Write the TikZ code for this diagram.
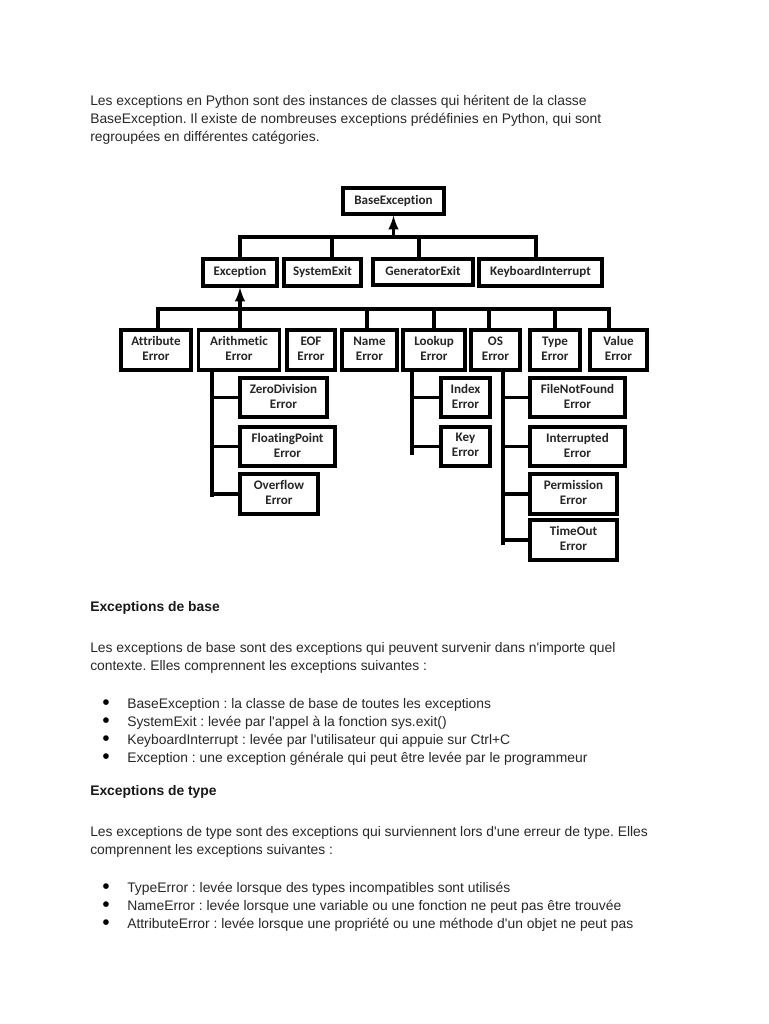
\documentclass[tikz,border=0pt]{standalone}
\usepackage{fontspec}
\setmainfont{Liberation Sans}
\newfontfamily\boxfont{Carlito}[Ligatures=NoCommon]
\newfontfamily\dotfont{DejaVu Sans}
\usepackage{tikz}
\usetikzlibrary{arrows,positioning,calc}
\definecolor{bodyGray}{RGB}{40,40,40}
\frenchspacing

\begin{document}
\begin{tikzpicture}[x=0.75pt,y=-0.75pt,>=latex,
    box/.style 2 args={draw, line width=2.4pt, inner sep=0pt, align=center,
        execute at begin node={\rule{0pt}{7.5pt}},
        execute at end node={\rule[-2.3pt]{0pt}{2.3pt}},
        minimum width=#1*0.75pt, minimum height=#2*0.75pt,
        font=\boxfont\bfseries\fontsize{9.8}{11.2}\selectfont, text=black!85},
    wire/.style={line width=2.5pt},
    twig/.style={line width=2.3pt},
    txt/.style={anchor=base west, inner sep=0pt, text=bodyGray,
        font=\fontsize{10.4}{12}\selectfont},
    head/.style={txt, text=black!90, font=\fontsize{10.4}{12}\selectfont\bfseries},
    dot/.style={inner sep=0pt, text=black, font=\dotfont\fontsize{5.5}{6}\selectfont}]
\fill[white] (0,0) rectangle (768,1024);
\useasboundingbox (0,0) rectangle (768,1024);

% intro
\node[txt] (p1a) at (90,105) {Les exceptions en Python sont des instances de classes qui héritent de la classe};
\node[txt] (p1b) at (90,123) {BaseException. Il existe de nombreuses exceptions prédéfinies en Python, qui sont};
\node[txt] (p1c) at (90,141) {regroupées en différentes catégories.};

% hierarchy
\node[box={101}{26}] (base) at (393.5,201) {BaseException};

\node[box={74}{27}] (exc) at (240,272.5) {Exception};
\node[box={77}{27}] (sysexit) at (322.5,272.5) {SystemExit};
\node[box={100}{26}] (genexit) at (423,272) {GeneratorExit};
\node[box={123}{27}] (kbint) at (540.5,272.5) {KeyboardInterrupt};

\node[box={70}{40}] (attr) at (156,350) {Attribute\\Error};
\node[box={81}{40}] (arith) at (239,350) {Arithmetic\\Error};
\node[box={48}{40}] (eof) at (311,350) {EOF\\Error};
\node[box={55}{40}] (name) at (369.5,350) {Name\\Error};
\node[box={62}{40}] (lookup) at (434,350) {Lookup\\Error};
\node[box={49}{40}] (oserr) at (495.5,350) {OS\\Error};
\node[box={50}{40}] (type) at (555,350) {Type\\Error};
\node[box={57}{40}] (value) at (618.5,350) {Value\\Error};

\node[box={87}{39}] (zdiv) at (283.5,397.5) {ZeroDivision\\Error};
\node[box={95}{39}] (fpoint) at (287.5,446.5) {FloatingPoint\\Error};
\node[box={78}{40}] (ovfl) at (279,494) {Overflow\\Error};

\node[box={49}{39}] (index) at (465.5,397.5) {Index\\Error};
\node[box={49}{39}] (key) at (465.5,446.5) {Key\\Error};

\node[box={95}{39}] (fnf) at (577.5,397.5) {FileNotFound\\Error};
\node[box={95}{39}] (intr) at (577.5,446.5) {Interrupted\\Error};
\node[box={87}{40}] (perm) at (573.5,494) {Permission\\Error};
\node[box={87}{40}] (tout) at (573.5,540) {TimeOut\\Error};

% top bus
\coordinate (t1) at (240,237);
\coordinate (t2) at (332,237);
\coordinate (t3) at (419,237);
\coordinate (t4) at (536,237);
\draw[wire] (t1 |- exc.north) -- (t1) -- (t4) -- (t4 |- kbint.north);
\draw[wire] (t2) -- (t2 |- sysexit.north);
\draw[wire] (t3) -- (t3 |- genexit.north);
\draw[wire,->] (base.south |- t1) -- (base.south);

% second bus
\coordinate (m1) at (158,309);
\coordinate (m2) at (609,309);
\draw[wire] (m1 |- attr.north) -- (m1) -- (m2) -- (m2 |- value.north);
\draw[wire,->] (arith.north -| exc.south) -- (exc.south);
\foreach \x/\n in {367/name, 434/lookup, 489/oserr, 555/type} {
    \coordinate (d) at (\x,309);
    \draw[wire] (d) -- (d |- \n.north);
}

% sub classes
\coordinate (ta) at (212,497);
\draw[twig] (ta |- arith.south) -- (ta);
\foreach \n in {zdiv,fpoint,ovfl}
    \draw[twig] (ta |- \n.west) -- (\n.west);

\coordinate (tl) at (412,455);
\draw[twig] (tl |- lookup.south) -- (tl);
\foreach \n in {index,key}
    \draw[twig] (tl |- \n.west) -- (\n.west);

\coordinate (to) at (503,545);
\draw[twig] (to |- oserr.south) -- (to);
\foreach \n in {fnf,intr,perm,tout}
    \draw[twig] (to |- \n.west) -- (\n.west);

% base exceptions
\node[head] (h1) at (90,611) {Exceptions de base};
\node[txt] (p2a) at (90,652) {Les exceptions de base sont des exceptions qui peuvent survenir dans n\textquotesingle importe quel};
\node[txt] (p2b) at (90,670) {contexte. Elles comprennent les exceptions suivantes :};

\node[dot] (b1) at (106,703) {●};
\node[dot] (b2) at (106,721) {●};
\node[dot] (b3) at (106,739) {●};
\node[dot] (b4) at (106,757) {●};
\node[txt] (l1) at (127,708) {BaseException : la classe de base de toutes les exceptions};
\node[txt] (l2) at (127,726) {SystemExit : levée par l\textquotesingle appel à la fonction sys.exit()};
\node[txt] (l3) at (127,744) {KeyboardInterrupt : levée par l\textquotesingle utilisateur qui appuie sur Ctrl+C};
\node[txt] (l4) at (127,762) {Exception : une exception générale qui peut être levée par le programmeur};

% type exceptions
\node[head] (h2) at (90,795) {Exceptions de type};
\node[txt] (p3a) at (90,836) {Les exceptions de type sont des exceptions qui surviennent lors d\textquotesingle une erreur de type. Elles};
\node[txt] (p3b) at (90,854) {comprennent les exceptions suivantes :};

\node[dot] (b5) at (106,887) {●};
\node[dot] (b6) at (106,905) {●};
\node[dot] (b7) at (106,923) {●};
\node[txt] (l5) at (127,892) {TypeError : levée lorsque des types incompatibles sont utilisés};
\node[txt] (l6) at (127,910) {NameError : levée lorsque une variable ou une fonction ne peut pas être trouvée};
\node[txt] (l7) at (127,928) {AttributeError : levée lorsque une propriété ou une méthode d\textquotesingle un objet ne peut pas};
\end{tikzpicture}
\end{document}
